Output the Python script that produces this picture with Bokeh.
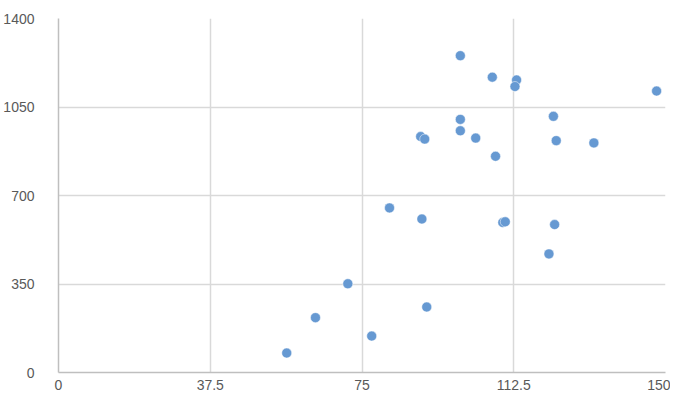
from bokeh.plotting import figure
from bokeh.models import Range1d, FixedTicker
from bokeh.embed import file_html
from bokeh.resources import INLINE

# data
x_values = [99.3, 107.2, 113.2, 112.8, 147.8, 99.3, 122.3, 99.3, 89.5, 90.5,
            103.1, 123.0, 132.3, 108.0, 81.8, 89.8, 109.8, 110.4, 122.6, 121.2,
            71.5, 91.0, 63.5, 77.4, 56.4]
y_values = [1253, 1168, 1157, 1131, 1113, 1001, 1013, 956, 933, 923,
            927, 917, 908, 855, 651, 607, 593, 596, 585, 469,
            351, 259, 217, 144, 77]
x_ticks = [0, 37.5, 75, 112.5, 150]
x_tick_labels = ["0", "37.5", "75", "112.5", "150"]
y_ticks = [0, 350, 700, 1050, 1400]
y_tick_labels = ["0", "350", "700", "1050", "1400"]

p = figure(width=670, height=392, output_backend="svg", toolbar_location=None,
           x_range=Range1d(0, 150), y_range=Range1d(0, 1400),
           min_border_left=50, min_border_right=5, min_border_top=18, min_border_bottom=10)
p.outline_line_color = None
p.background_fill_color = "white"
p.border_fill_color = "white"

p.scatter(x_values, y_values, size=10, fill_color="#6699d2", line_color="white",
          line_width=0.5)

p.xaxis.ticker = FixedTicker(ticks=x_ticks)
p.yaxis.ticker = FixedTicker(ticks=y_ticks)
p.xaxis.major_label_overrides = {t: l for t, l in zip(x_ticks, x_tick_labels)}
p.yaxis.major_label_overrides = {t: l for t, l in zip(y_ticks, y_tick_labels)}

for ax in (p.xaxis, p.yaxis):
    ax.major_tick_line_color = None
    ax.minor_tick_line_color = None
    ax.axis_line_color = "#bfbfbf"
    ax.axis_line_width = 1.5
    ax.major_label_text_font = "Liberation Sans"
    ax.major_label_text_font_size = "14px"
    ax.major_label_text_color = "#595959"
p.xaxis.major_label_standoff = 1
p.yaxis.major_label_standoff = 18

p.grid.grid_line_color = "#d9d9d9"
p.grid.grid_line_width = 1.5

open("out.html", "w").write(file_html(p, INLINE))
